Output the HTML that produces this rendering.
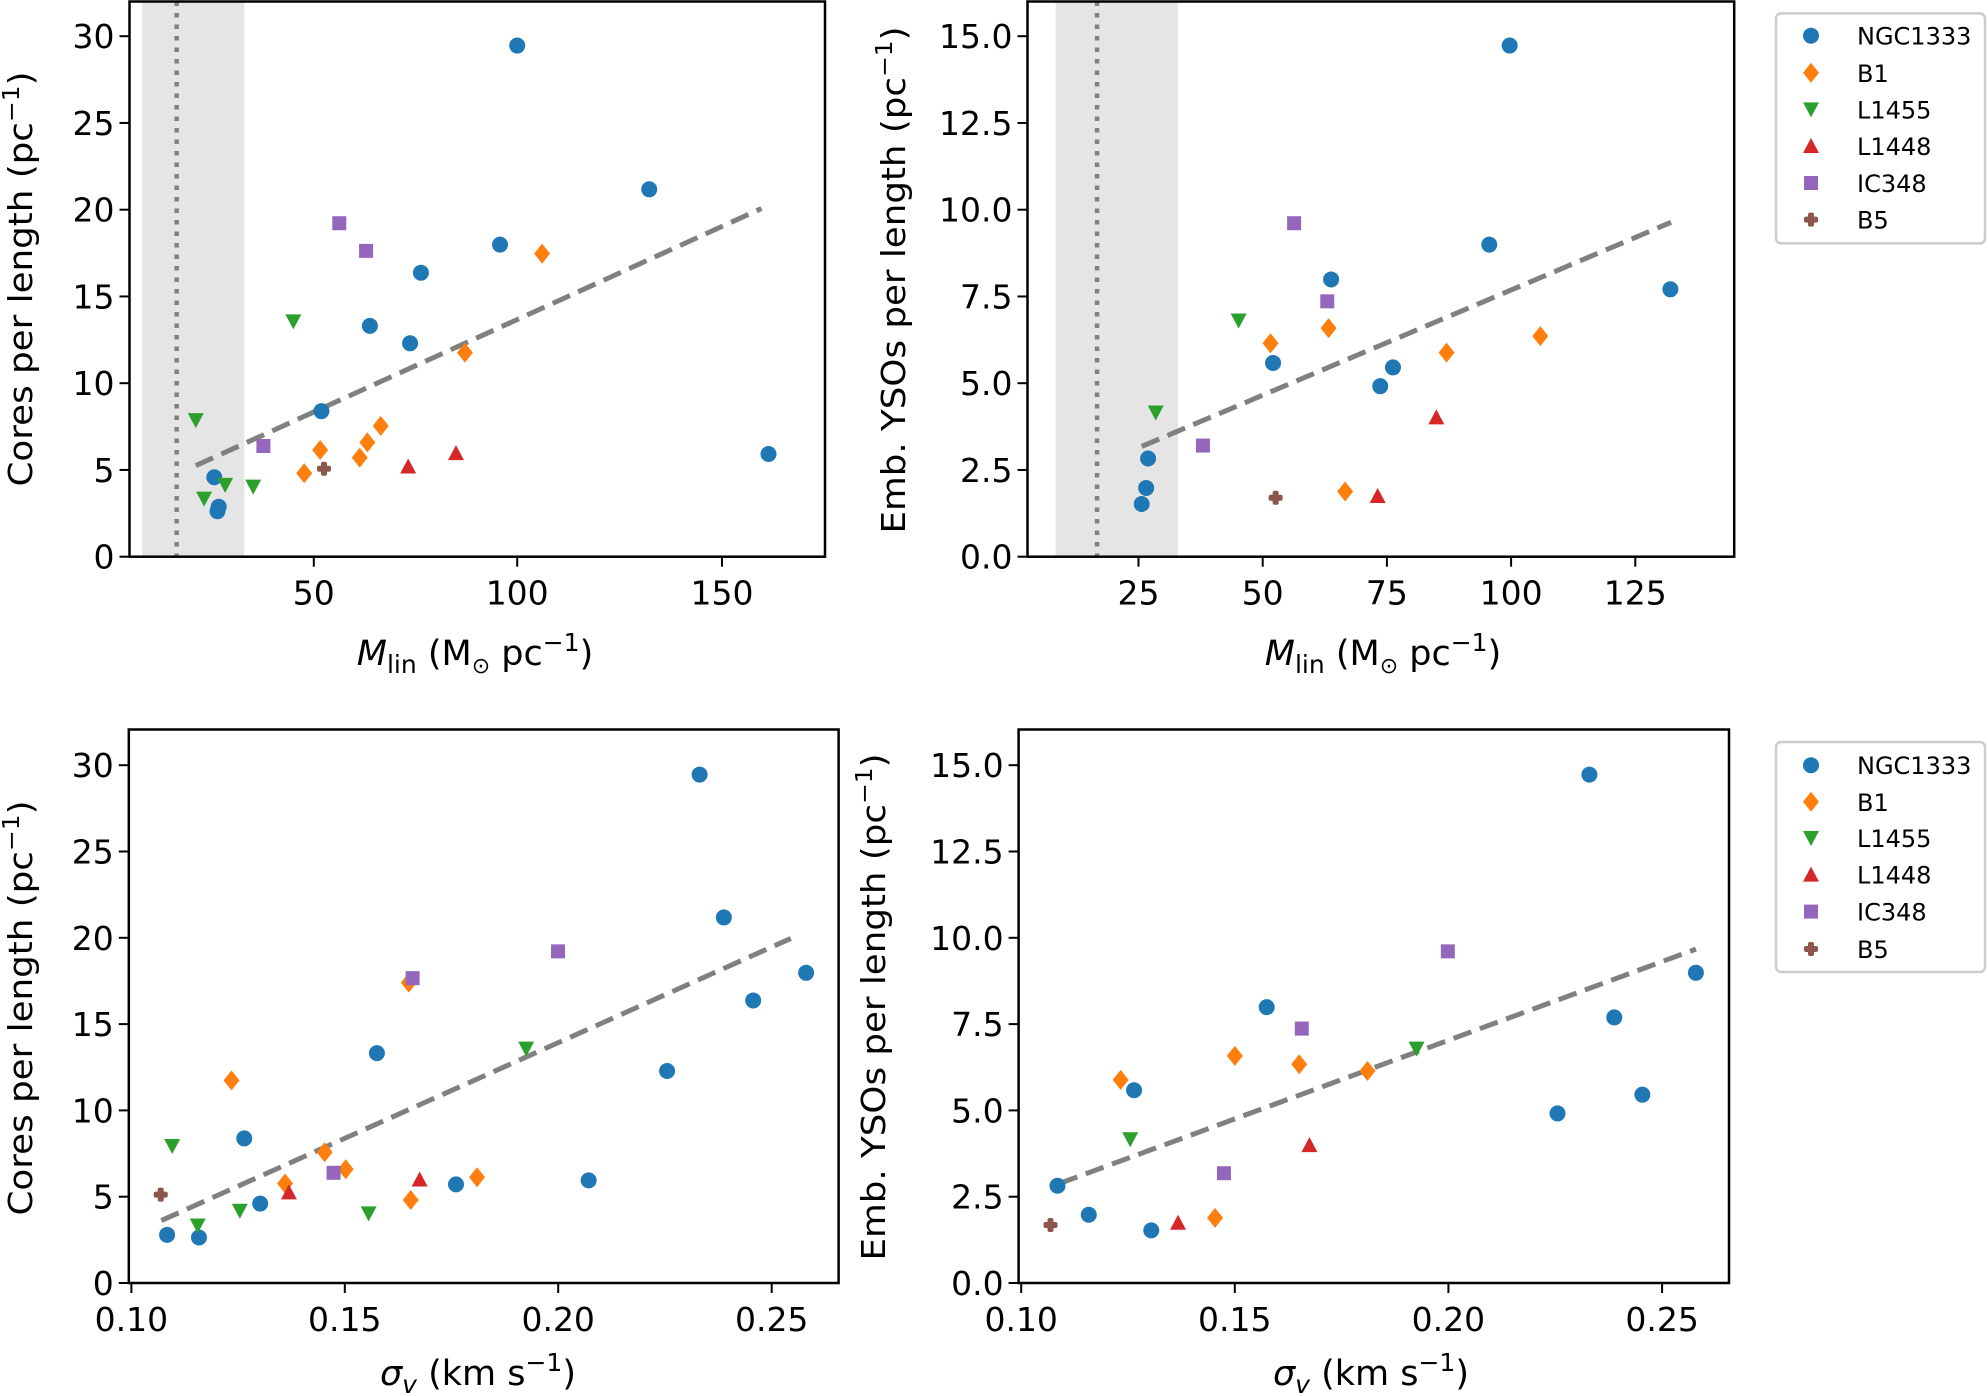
<!DOCTYPE html>
<html><head><meta charset="utf-8"><style>
html,body{margin:0;padding:0;background:#fff}
svg{display:block}
text{font-family:"DejaVu Sans","Liberation Sans",sans-serif;fill:#000}
</style></head><body>
<svg id="s" width="1988" height="1396" viewBox="0 0 1988 1396" xmlns="http://www.w3.org/2000/svg"></svg>
<script>
const S=document.getElementById('s');const NS='http://www.w3.org/2000/svg';
function el(t,a,txt){const e=document.createElementNS(NS,t);for(const k in a)e.setAttribute(k,a[k]);if(txt!=null)e.textContent=txt;S.appendChild(e);return e;}
const C={b:'#1f77b4',o:'#ff7f0e',g:'#2ca02c',r:'#d62728',p:'#9467bd',br:'#8c564b'};
function marker(type,x,y){
 if(type==='b')el('circle',{cx:x,cy:y,r:8,fill:C.b});
 else if(type==='o')el('polygon',{points:`${x},${y-10} ${x+8},${y} ${x},${y+10} ${x-8},${y}`,fill:C.o});
 else if(type==='g')el('polygon',{points:`${x-8},${y-7} ${x+8},${y-7} ${x},${y+8}`,fill:C.g});
 else if(type==='r')el('polygon',{points:`${x-8},${y+7} ${x+8},${y+7} ${x},${y-8}`,fill:C.r});
 else if(type==='p')el('rect',{x:x-7,y:y-7,width:14,height:14,fill:C.p});
 else if(type==='br'){el('rect',{x:x-7,y:y-3,width:14,height:6,fill:C.br,rx:2});el('rect',{x:x-3,y:y-7,width:6,height:14,fill:C.br,rx:2});}
}
const SX=1.568,SY=2.24;
function panel(ox,oy,P){
 const X=v=>ox+v/SX,Y=v=>oy+v/SY;
 if(P.shade){el('rect',{x:X(P.shade[0]),y:P.top,width:(P.shade[1]-P.shade[0])/SX,height:P.bot-P.top,fill:'#e5e5e5'});
  el('line',{x1:X(P.shade[2]),x2:X(P.shade[2]),y1:P.top,y2:P.bot,stroke:'#808080','stroke-width':4.5,'stroke-dasharray':'4.5 7'});}
 el('line',{x1:X(P.line[0]),y1:Y(P.line[1]),x2:X(P.line[2]),y2:Y(P.line[3]),stroke:'#808080','stroke-width':5,'stroke-dasharray':'19 9'});
 for(const k in P.pts)for(const q of P.pts[k])marker(k,X(q[0]),Y(q[1]));
 el('rect',{x:P.left,y:P.top,width:P.right-P.left,height:P.bot-P.top,fill:'none',stroke:'#000','stroke-width':2.5});
 for(const t of P.yt){el('line',{x1:P.left-10,x2:P.left,y1:t[0],y2:t[0],stroke:'#000','stroke-width':2});
  el('text',{x:P.left-15,y:t[0]+12,'text-anchor':'end','font-size':33},t[1]);}
 for(const t of P.xt){el('line',{x1:t[0],x2:t[0],y1:P.bot,y2:P.bot+10,stroke:'#000','stroke-width':2});
  el('text',{x:t[0],y:P.bot+48,'text-anchor':'middle','font-size':33},t[1]);}
 const g=el('text',{transform:`translate(${P.yl[0]},${P.yl[1]}) rotate(-90)`,'text-anchor':'middle','font-size':33,textLength:P.yl[2],lengthAdjust:'spacingAndGlyphs'});
 g.innerHTML=P.ylab+'(pc<tspan dy="-13" font-size="23">−1</tspan><tspan dy="13">)</tspan>';
 const xl=el('text',{x:P.xl[0],y:P.xl[1],'text-anchor':'middle','font-size':35});
 xl.innerHTML=P.xlab;
}
function legend(x,y,h,ys){
 el('rect',{x:x,y:y,width:209,height:h,fill:'#fff',stroke:'#ccc','stroke-width':2.5,rx:5});
 const n=[['b','NGC1333'],['o','B1'],['g','L1455'],['r','L1448'],['p','IC348'],['br','B5']];
 n.forEach((e,i)=>{marker(e[0],1811,ys[i]);el('text',{x:1857,y:ys[i]+9,'font-size':24},e[1]);});
}
const mlab='<tspan font-style="italic">M</tspan><tspan font-size="25" dy="8">lin</tspan><tspan dy="-8"> (M</tspan><tspan font-size="22" dy="8">⊙</tspan><tspan dy="-8"> pc</tspan><tspan dy="-14" font-size="25">−1</tspan><tspan dy="14">)</tspan>';
const slab='<tspan font-style="italic">σ</tspan><tspan font-size="25" dy="8" font-style="italic">v</tspan><tspan dy="-8"> (km s</tspan><tspan dy="-14" font-size="25">−1</tspan><tspan dy="14">)</tspan>';
const ytA=[0,5,10,15,20,25,30].map((v,i)=>[556.7-i*86.75,String(v)]);
const ytB=['0.0','2.5','5.0','7.5','10.0','12.5','15.0'].map((v,i)=>[556.7-i*86.75,v]);
const ytC=[0,5,10,15,20,25,30].map((v,i)=>[1283-i*86.3,String(v)]);
const ytD=['0.0','2.5','5.0','7.5','10.0','12.5','15.0'].map((v,i)=>[1283-i*86.3,v]);
panel(0,0,{left:129.5,right:825,top:1.5,bot:556.7,shade:[223,383,277],line:[307,1043,1194,467],
 pts:{b:[[811,102],[1018,424],[784,548],[660,611],[580,730],[643,769],[504,921],[1205,1017],[336,1069],[341,1145],[343,1135]],
 o:[[850,568],[729,790],[597,954],[576,991],[564,1025],[502,1008],[477,1060]],
 g:[[307,941],[460,720],[320,1117],[353,1086],[397,1090]],r:[[640,1045],[715,1015]],p:[[532,500],[574,562],[413,999]],br:[[508,1050]]},
 yt:ytA,xt:[[313.8,'50'],[517.2,'100'],[722,'150']],yl:[32,279,415],ylab:'Cores per length ',xl:[475,665],xlab:mlab});
panel(988,0,{left:1027.5,right:1734.2,top:1.5,bot:556.7,shade:[106,298,171],line:[241,1000,1071,498],
 pts:{b:[[818,102],[786,548],[1070,648],[538,626],[447,813],[635,823],[615,865],[251,1027],[248,1093],[241,1129]],
 o:[[534,735],[443,769],[866,753],[719,790],[560,1101]],g:[[393,718],[263,924]],r:[[703,935],[611,1111]],
 p:[[480,500],[532,675],[337,998]],br:[[451,1115]]},
 yt:ytB,xt:[[1138.5,'25'],[1262.7,'50'],[1386.9,'75'],[1511.1,'100'],[1635.3,'125']],yl:[905,280,507],ylab:'Emb. YSOs per length ',xl:[1383,665],xlab:mlab});
panel(0,696,{left:128.8,right:838.6,top:729.5,bot:1283,line:[253,1175,1240,543],
 pts:{b:[[1097,176],[1135,496],[1264,620],[1181,682],[591,800],[1046,840],[383,991],[923,1085],[715,1094],[408,1137],[262,1207],[312,1213]],
 o:[[363,861],[641,642],[509,1022],[542,1060],[447,1092],[748,1078],[644,1129]],
 g:[[270,1008],[825,790],[376,1153],[578,1159],[310,1186]],r:[[453,1112],[658,1083]],p:[[647,632],[875,572],[523,1068]],br:[[252,1117]]},
 yt:ytC,xt:[[131.4,'0.10'],[344.8,'0.15'],[558.2,'0.20'],[771.7,'0.25']],yl:[32,1008,415],ylab:'Cores per length ',xl:[478,1385],xlab:slab});
panel(988,696,{left:1018.6,right:1729,top:729.5,bot:1283,line:[112,1092,1110,567],
 pts:{b:[[943,176],[1110,620],[982,720],[437,697],[229,883],[1026,893],[893,935],[109,1097],[158,1162],[256,1197]],
 o:[[208,860],[387,806],[488,825],[595,840],[356,1169]],g:[[672,790],[223,993]],r:[[504,1006],[298,1180]],
 p:[[721,572],[492,745],[370,1069]],br:[[98,1185]]},
 yt:ytD,xt:[[1021.2,'0.10'],[1234.8,'0.15'],[1448.4,'0.20'],[1662.1,'0.25']],yl:[885,1007,507],ylab:'Emb. YSOs per length ',xl:[1371,1385],xlab:slab});
legend(1776,13.4,230,[35.7,72.8,109.4,146,183,219.6]);
legend(1776,742,230,[765.2,801.8,838,874.6,911.6,949]);
</script>
</body></html>
